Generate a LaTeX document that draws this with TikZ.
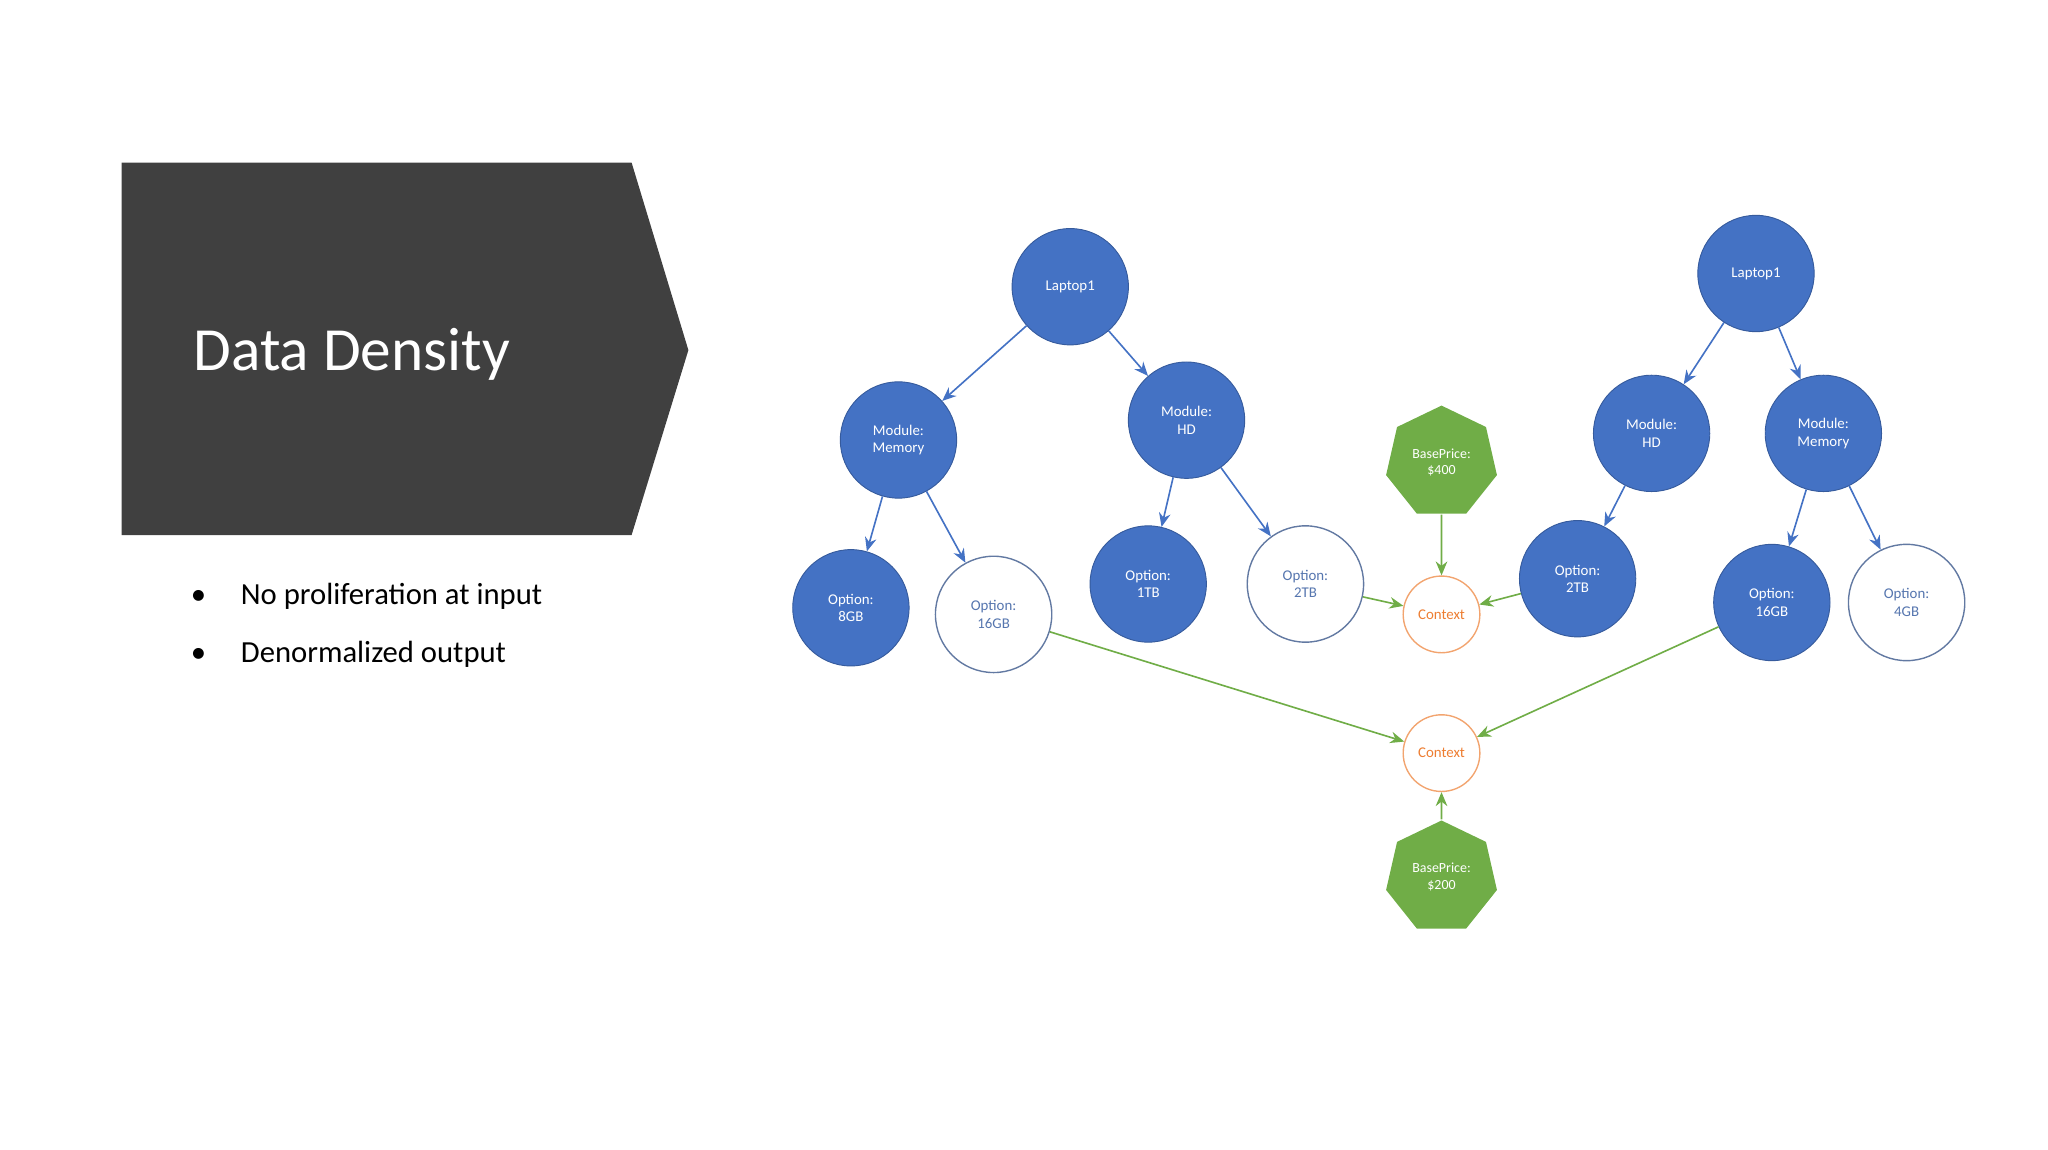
\documentclass[tikz,border=0pt]{standalone}
\usepackage{fontspec}
\setmainfont{Carlito}
\usetikzlibrary{shapes.geometric,arrows.meta}
\definecolor{bl}{HTML}{4472C4}
\definecolor{gr}{HTML}{70AD47}
\definecolor{orr}{HTML}{ED7D31}
\definecolor{dk}{HTML}{404040}
\begin{document}
\begin{tikzpicture}[x=0.01cm,y=-0.01cm,
 fb/.style={circle,fill=bl,draw=bl!80!black,line width=0.2pt,minimum size=88\pgflinewidth*0+0.88cm,inner sep=0,text=white,font=\fontsize{3.2}{3.8}\selectfont,align=center},
 wb/.style={circle,fill=white,draw=bl!50!gray,line width=0.3pt,minimum size=0.88cm,inner sep=0,text=bl!70!gray,font=\fontsize{3.2}{3.8}\selectfont,align=center},
 ctx/.style={circle,draw=orr!70,line width=0.3pt,minimum size=0.58cm,inner sep=0,text=orr,font=\fontsize{3.2}{3.8}\selectfont},
 hep/.style={regular polygon,regular polygon sides=7,fill=gr,minimum size=0.86cm,inner sep=0,text=white,font=\fontsize{3}{3.6}\selectfont,align=center},
 ba/.style={-{Stealth[length=3pt,width=2.5pt]},draw=bl,line width=0.35pt},
 ga/.style={-{Stealth[length=3pt,width=2.5pt]},draw=gr,line width=0.35pt}]
\useasboundingbox (0,0) rectangle (1550,870);
\fill[dk] (92,123) -- (478,123) -- (521,265) -- (478,405) -- (92,405) -- cycle;
\node[anchor=west,text=white,font=\fontsize{13.2}{15}\selectfont] (title) at (134,268) {Data Density};
\node[anchor=west,font=\fontsize{6.6}{8}\selectfont] (b1) at (132,451) {\textbullet\hspace{7.5pt}No proliferation at input};
\node[anchor=west,font=\fontsize{6.6}{8}\selectfont] (b2) at (132,495) {\textbullet\hspace{7.5pt}Denormalized output};
% left tree
\node[fb] (L1) at (810,217) {Laptop1};
\node[fb] (LM) at (680,333) {Module:\\Memory};
\node[fb] (LH) at (898,318) {Module:\\HD};
\node[fb] (L8) at (644,460) {Option:\\8GB};
\node[wb] (L16) at (752,465) {Option:\\16GB};
\node[fb] (L1T) at (869,442) {Option:\\1TB};
\node[wb] (L2T) at (988,442) {Option:\\2TB};
% right tree
\node[fb] (R1) at (1329,207) {Laptop1};
\node[fb] (RH) at (1250,328) {Module:\\HD};
\node[fb] (RM) at (1380,328) {Module:\\Memory};
\node[fb] (R2T) at (1194,438) {Option:\\2TB};
\node[fb] (R16) at (1341,456) {Option:\\16GB};
\node[wb] (R4) at (1443,456) {Option:\\4GB};
% context
\node[hep] (P4) at (1091,350) {BasePrice:\\\$400};
\node[ctx] (C1) at (1091,465) {Context};
\node[ctx] (C2) at (1091,570) {Context};
\node[hep] (P2) at (1091,664) {BasePrice:\\\$200};
\draw[ba] (L1) -- (LM); \draw[ba] (L1) -- (LH);
\draw[ba] (LM) -- (L8); \draw[ba] (LM) -- (L16);
\draw[ba] (LH) -- (L1T); \draw[ba] (LH) -- (L2T);
\draw[ba] (R1) -- (RH); \draw[ba] (R1) -- (RM);
\draw[ba] (RH) -- (R2T);
\draw[ba] (RM) -- (R16); \draw[ba] (RM) -- (R4);
\draw[ga] (P4) -- (C1); \draw[ga] (L2T) -- (C1); \draw[ga] (R2T) -- (C1);
\draw[ga] (L16) -- (C2); \draw[ga] (R16) -- (C2); \draw[ga] (P2) -- (C2);
\end{tikzpicture}
\end{document}
